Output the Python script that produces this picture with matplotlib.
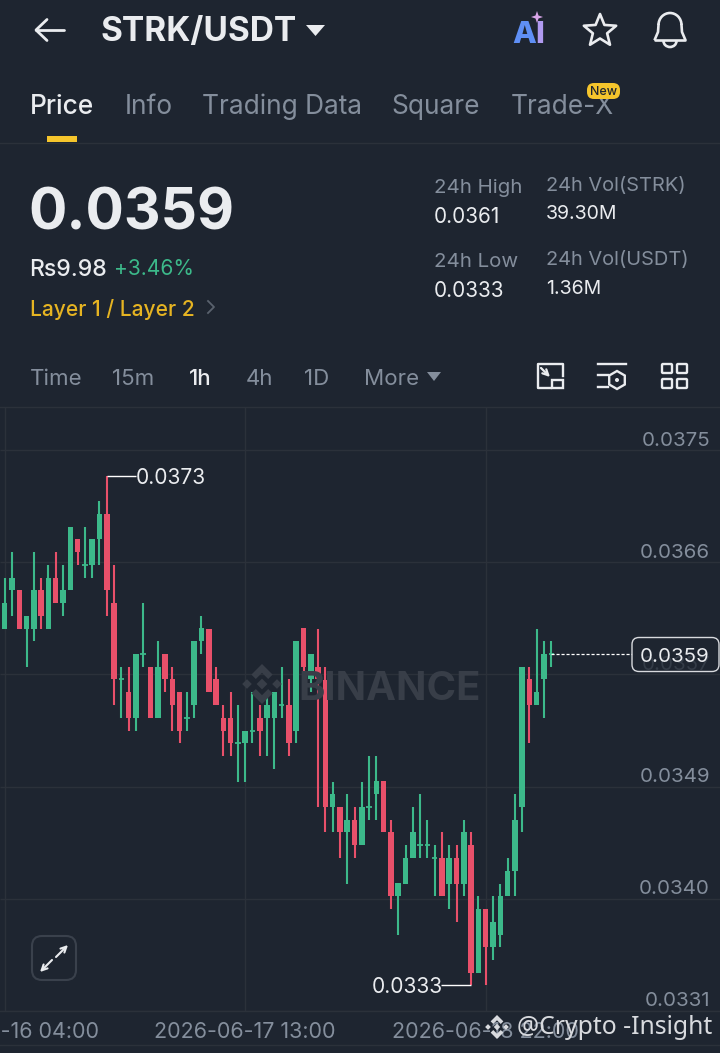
"""
Binance style STRK/USDT 1h candlestick screen.
"""
import matplotlib
matplotlib.use("Agg")
import numpy as np
import matplotlib.pyplot as plt
from matplotlib.patches import FancyBboxPatch, Polygon, Rectangle, Circle, Arc

plt.rcParams["font.family"] = ["Inter", "DejaVu Sans"]

# hourly candles, starting 2026-06-16 04:00
opens = [.0361, .0364, .0364, .0361, .0361, .0364, .0361, .0365, .0363, .0364, .0368,
         .0366, .0366, .0368, .0370, .0363, .0357, .0356, .0354, .0359, .0358, .0354,
         .0359, .0357, .0356, .0354, .0355, .0360, .0361, .0357, .0354, .0354, .0352,
         .0352, .0353, .0354, .0354, .0354, .0355, .0355, .0353, .0361, .0357, .0358,
         .0357, .0347, .0347, .0345, .0346, .0344, .0347, .0348, .0349, .0345, .0340,
         .0341, .0343, .0344, .0344, .0343, .0343, .0341, .0343, .0341, .0344, .0334,
         .0339, .0336, .0337, .0340, .0342, .0347, .0357, .0355, .0357, .0359]
closes = [.0363, .0365, .0361, .0362, .0364, .0362, .0365, .0363, .0364, .0369, .0367,
          .0366, .0368, .0370, .0364, .0357, .0357, .0354, .0359, .0359, .0354, .0358,
          .0357, .0355, .0353, .0354, .0360, .0361, .0356, .0355, .0353, .0352, .0352,
          .0353, .0353, .0353, .0355, .0356, .0355, .0352, .0360, .0358, .0359, .0357,
          .0347, .0348, .0345, .0346, .0344, .0347, .0347, .0349, .0345, .0340, .0341,
          .0343, .0345, .0344, .0344, .0343, .0340, .0343, .0341, .0345, .0334, .0339,
          .0336, .0338, .0340, .0342, .0346, .0358, .0355, .0356, .0359, .0359]
highs = [.0365, .0367, .0364, .0362, .0367, .0365, .0366, .0367, .0366, .0369, .0368,
         .0369, .0368, .0371, .0373, .0366, .0358, .0358, .0359, .0363, .0358, .0360,
         .0359, .0358, .0356, .0356, .0360, .0362, .0361, .0358, .0355, .0356, .0355,
         .0353, .0356, .0355, .0356, .0356, .0358, .0357, .0360, .0361, .0359, .0361,
         .0358, .0349, .0347, .0348, .0347, .0349, .0351, .0351, .0349, .0346, .0341,
         .0344, .0347, .0348, .0346, .0344, .0345, .0344, .0344, .0346, .0345, .0340,
         .0339, .0340, .0341, .0343, .0348, .0358, .0358, .0361, .0360, .0360]
lows = [.0361, .0362, .0361, .0358, .0360, .0361, .0361, .0363, .0362, .0364, .0366,
        .0365, .0365, .0366, .0362, .0355, .0354, .0353, .0353, .0358, .0354, .0354,
        .0356, .0353, .0352, .0353, .0354, .0359, .0356, .0355, .0351, .0351, .0349,
        .0349, .0352, .0351, .0351, .0350, .0354, .0351, .0352, .0357, .0356, .0347,
        .0345, .0345, .0343, .0341, .0343, .0344, .0346, .0346, .0345, .0339,
        .0337, .0341, .0343, .0343, .0343, .0340, .0340, .0339, .0338, .0340, .0333,
        .0334, .0333, .0335, .0336, .0340, .0340, .0345, .0352, .0355, .0354, .0358]

price_ticks = [0.0375, 0.03662, 0.03574, 0.03486, 0.03398, 0.0331]
price_labels = ["0.0375", "0.0366", "0.0357", "0.0349", "0.0340", "0.0331"]
time_idx = [0, 33, 66]
time_labels = ["2026-06-16 04:00", "2026-06-17 13:00", "2026-06-18 22:00"]
tabs = ["Price", "Info", "Trading Data", "Square", "Trade-X"]
tab_x = [30, 125, 202, 391, 511]
intervals = ["Time", "15m", "1h", "4h", "1D", "More"]
interval_x = [30, 112, 189, 246, 304, 364]

BG = "#1e2530"
GRID = "#2b313a"
GREY = "#848e9c"
WHITE = "#eaecef"
GREEN = "#3cb98a"
RED = "#e8506a"
W, H = 720, 1053
STEP = 7.288
X0 = 4.7

fig = plt.figure(figsize=(W / 100, H / 100), dpi=100, facecolor=BG)


def px(size):
    return size * 0.72


def diamond(axis, cx, cy, r, color, zorder=1):
    axis.add_patch(Polygon([(cx, cy - r), (cx + r, cy), (cx, cy + r), (cx - r, cy)], fc=color, ec="none", zorder=zorder))


def binance_logo(axis, cx, cy, s, color, zorder=1):
    # s is half the height of the whole mark
    t = s * 0.22
    for sign in (-1, 1):
        tip = cy + sign * s
        inner = cy + sign * s * 0.47
        axis.add_patch(Polygon([(cx, tip), (cx + s * 0.53, inner), (cx + s * 0.53 - t, inner - sign * t),
                                (cx, tip - sign * t * 2), (cx - s * 0.53 + t, inner - sign * t),
                                (cx - s * 0.53, inner)], fc=color, ec="none", zorder=zorder))
    diamond(axis, cx, cy, s * 0.27, color, zorder)
    diamond(axis, cx - s * 0.75, cy, s * 0.24, color, zorder)
    diamond(axis, cx + s * 0.75, cy, s * 0.24, color, zorder)


# chart
ax = fig.add_axes([0, (H - 1011) / H, 1, (1011 - 407) / H], facecolor="none")
ax.set_xlim(-X0 / STEP, (W - X0) / STEP)
ax.set_ylim(0.0375 - 561 / 127500, 0.0375 + 43 / 127500)
ax.set_xticks([])
ax.set_yticks([])
for s in ax.spines.values():
    s.set_visible(False)

ax.hlines(price_ticks, *ax.get_xlim(), color=GRID, lw=1, zorder=1)
ax.vlines(time_idx, *ax.get_ylim(), color=GRID, lw=1, zorder=1)

x = np.arange(len(opens))
o, c, h, l = map(np.array, (opens, closes, highs, lows))
colors = [GREEN if cl >= op else RED for op, cl in zip(o, c)]
ax.vlines(x, l, h, color=colors, lw=1.5, zorder=3)
ax.bar(x, np.abs(c - o), bottom=np.minimum(o, c), width=0.76, color=colors, zorder=3)
doji = o == c
ax.hlines(o[doji], x[doji] - 0.37, x[doji] + 0.37, color=np.array(colors)[doji], lw=1.3, zorder=3)

# high / low markers
hi = int(np.argmax(h))
lo = int(np.argmin(l))
ax.hlines(h[hi], hi, hi + 4, color="white", lw=1, zorder=4)
ax.hlines(l[lo], lo - 4.1, lo, color="white", lw=1, zorder=4)
ax.annotate("0.0373", (hi + 4.1, h[hi]), xytext=(-1, -2), textcoords="offset pixels", color=WHITE,
            fontsize=px(21), va="center", ha="left", zorder=4)
ax.annotate("0.0333", (lo - 4.1, l[lo]), xytext=(2, -2), textcoords="offset pixels", color=WHITE,
            fontsize=px(21), va="center", ha="right", zorder=4)

# last price
ax.plot([x[-1], (632 - X0) / STEP], [c[-1], c[-1]], color="white", lw=0.9, ls=(0, (2.5, 1.5)), zorder=4)

# price axis labels sit just above their grid lines
for p, lab in zip(price_ticks, price_labels):
    ax.annotate(lab, (710, p), xycoords=("figure pixels", "data"), xytext=(0, 9.5), textcoords="offset pixels",
                color=GREY, fontsize=px(20.5), ha="right", va="center", zorder=2)

# screen furniture, in image pixels
ui = fig.add_axes([0, 0, 1, 1], facecolor="none")
ui.set_xlim(0, W)
ui.set_ylim(H, 0)
ui.axis("off")

# the tag lets a trace of the 0.0357 label through
ui.add_patch(FancyBboxPatch((632, 637.5), 87, 34, boxstyle="round,pad=0,rounding_size=7",
                            fc=(0.118, 0.145, 0.188, 0.78), ec="#d8dade", lw=1, zorder=5))
ui.text(709.5, 657, "0.0359", color=WHITE, fontsize=px(20.5), ha="right", va="center", zorder=6)

# separators
for yy in (142.5, 407, 1011, 1044.5):
    ui.plot([0, W], [yy, yy], color=GRID, lw=1, zorder=1)

# watermark
ui.text(390, 690, "BINANCE", color="#383e48", fontsize=px(40), fontweight="bold", ha="center", va="center", zorder=1)
binance_logo(ui, 262, 684, 20, "#383e48")

# header
ui.plot([36, 64], [30, 30], color=WHITE, lw=2, solid_capstyle="round")
ui.plot([47, 36, 47], [19.5, 30, 40.5], color=WHITE, lw=2, solid_capstyle="round")
ui.text(101, 32, "STRK/USDT", color=WHITE, fontsize=px(33.4), fontweight="bold", va="center")
ui.add_patch(Polygon([(306, 25), (325, 25), (315.5, 36)], fc=WHITE, ec="none"))
ui.text(512, 35, "A", color="#5f8ff5", fontsize=px(31), fontweight="heavy", va="center")
ui.text(535, 35, "I", color="#b09af0", fontsize=px(31), fontweight="heavy", va="center")
ui.add_patch(Polygon([(537, 11), (538.5, 15.5), (543, 17), (538.5, 18.5), (537, 23), (535.5, 18.5), (531, 17), (535.5, 15.5)],
                     fc="#d9a5e8", ec="none"))

ang = np.deg2rad(np.arange(10) * 36 - 90)
rad = np.where(np.arange(10) % 2 == 0, 17, 7.5)
ui.add_patch(Polygon(np.c_[600 + rad * np.cos(ang), 31 + rad * np.sin(ang)], fc="none", ec=WHITE, lw=1.9, joinstyle="round"))

ui.plot([655, 658, 658.5], [39, 32, 25], color=WHITE, lw=1.9)
ui.plot([685, 682, 681.5], [39, 32, 25], color=WHITE, lw=1.9)
ui.add_patch(Arc((670, 25), 23, 24, theta1=180, theta2=360, ec=WHITE, lw=1.9))
ui.plot([655, 685], [40, 40], color=WHITE, lw=1.9, solid_capstyle="round")
ui.add_patch(Arc((670, 41), 13, 12, theta1=0, theta2=180, ec=WHITE, lw=1.9))

# tabs
for i, (t, tx) in enumerate(zip(tabs, tab_x)):
    ui.text(tx, 107, t, color=WHITE if i == 0 else GREY, fontsize=px(26.3), va="center",
            fontweight="medium" if i == 0 else "normal")
ui.add_patch(Rectangle((47, 136), 30, 6, fc="#f5c52c", ec="none"))
ui.add_patch(FancyBboxPatch((587, 83), 33, 16, boxstyle="round,pad=0,rounding_size=7", fc="#f5c52c", ec="none", zorder=3))
ui.text(603.5, 92, "New", color="#1e2530", fontsize=px(12.5), fontweight="medium", ha="center", va="center", zorder=4)

# price block
ui.text(28, 214, "0.0359", color=WHITE, fontsize=px(57), fontweight="bold", va="center")
ui.text(29, 270, "Rs9.98", color=WHITE, fontsize=px(23), fontweight="medium", va="center")
ui.text(114, 269, "+3.46%", color=GREEN, fontsize=px(21), va="center")
ui.text(30, 309, "Layer 1 / Layer 2", color="#e6b422", fontsize=px(21), fontweight="medium", va="center")
ui.plot([208, 214, 208], [301, 307, 313], color="#5a626e", lw=1.3)

ui.text(434, 188, "24h High", color=GREY, fontsize=px(20.5), va="center")
ui.text(434, 217, "0.0361", color=WHITE, fontsize=px(20.7), va="center")
ui.text(434, 262, "24h Low", color=GREY, fontsize=px(20.5), va="center")
ui.text(434, 291, "0.0333", color=WHITE, fontsize=px(20.7), va="center")
ui.text(546, 186, "24h Vol(STRK)", color=GREY, fontsize=px(20), va="center")
ui.text(546, 214, "39.30M", color=WHITE, fontsize=px(19.5), va="center")
ui.text(546, 260, "24h Vol(USDT)", color=GREY, fontsize=px(20), va="center")
ui.text(546, 289, "1.36M", color=WHITE, fontsize=px(19.5), va="center")

# interval row
for t, tx in zip(intervals, interval_x):
    ui.text(tx, 379, t, color=WHITE if t == "1h" else GREY, fontsize=px(22.3), va="center",
            fontweight="medium" if t == "1h" else "normal")
ui.add_patch(Polygon([(427, 372), (441, 372), (434, 381)], fc=GREY, ec="none"))

# toolbar icons
ui.plot([551, 538, 538, 563, 563], [388, 388, 364, 364, 376], color=WHITE, lw=1.7)
ui.add_patch(Rectangle((552, 380), 11, 8, fc="none", ec=WHITE, lw=1.7))
ui.annotate("", (550, 377), (541, 368), arrowprops=dict(arrowstyle="->", color=WHITE, lw=1.6, shrinkA=0, shrinkB=0))
ui.plot([598, 626], [364, 364], color=WHITE, lw=1.7)
for yy in (375, 387):
    ui.plot([598, 608], [yy, yy], color=WHITE, lw=1.7)
hexa = np.deg2rad(np.arange(6) * 60 - 90)
ui.add_patch(Polygon(np.c_[617 + 9 * np.cos(hexa), 380 + 9 * np.sin(hexa)], fc="none", ec=WHITE, lw=1.7))
ui.add_patch(Circle((617, 380), 2, fc=WHITE, ec="none"))
for gx in (662, 677):
    for gy in (364, 379):
        ui.add_patch(FancyBboxPatch((gx, gy), 10, 9, boxstyle="round,pad=0,rounding_size=1", fc="none", ec=WHITE, lw=1.7))

# expand button
ui.add_patch(FancyBboxPatch((32, 936), 44, 44, boxstyle="round,pad=0,rounding_size=10", fc=BG, ec="#3a414c", lw=1.5, zorder=4))
ui.annotate("", (68, 945), (56, 957), arrowprops=dict(arrowstyle="->", color=WHITE, lw=1.5, shrinkA=0, shrinkB=0), zorder=5)
ui.annotate("", (40, 972), (52, 960), arrowprops=dict(arrowstyle="->", color=WHITE, lw=1.5, shrinkA=0, shrinkB=0), zorder=5)

# time axis, the first label runs off the left edge
for i, lab in zip(time_idx, time_labels):
    ui.text(X0 + STEP * i, 1032, lab, color=GREY, fontsize=px(21.5), ha="center", va="center")

# repost credit over the axis
binance_logo(ui, 497, 1027, 12, "#d8dade", zorder=7)
ui.text(712, 1027, "@Crypto -Insight", color="#d8dade", fontsize=px(24.7), ha="right", va="center", zorder=7,
        family=["Noto Sans", "DejaVu Sans"])

fig.savefig("out.png", dpi=100, facecolor=BG)
